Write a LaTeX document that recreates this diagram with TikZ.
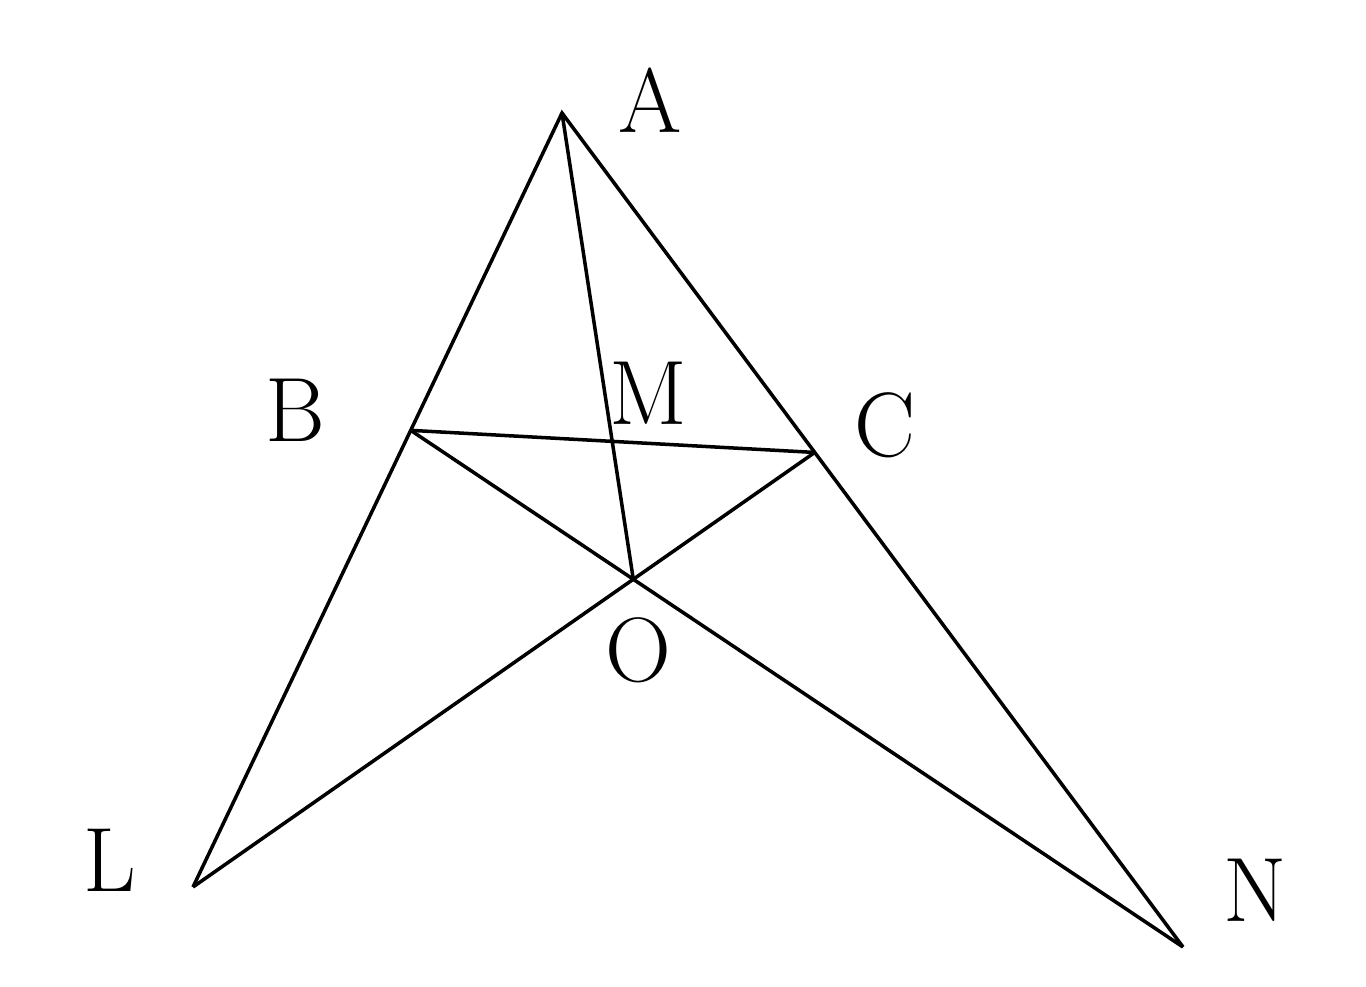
\documentclass[tikz,border=0pt]{standalone}
\usepackage{tikz}
\usetikzlibrary{calc}

\begin{document}
\begin{tikzpicture}[line width=1pt,
  lbl/.style={font=\fontsize{26}{28}\selectfont}]
\useasboundingbox (0,0) rectangle (13.66,9.86);
\coordinate (A) at (5.62,8.73);
\coordinate (L) at (1.93,0.99);
\coordinate (N) at (11.83,0.39);
\coordinate (B) at ($(A)!0.41!(L)$);
\coordinate (C) at ($(A)!0.407!(N)$);
\coordinate (O) at (intersection of B--N and C--L);
\draw (L) -- (A) -- (N);
\draw (B) -- (C);
\draw (B) -- (N);
\draw (C) -- (L);
\draw (A) -- (O);
\node[lbl] (lA) at (6.50,8.86) {A};
\node[lbl] (lB) at (2.95,5.76) {B};
\node[lbl] (lC) at (8.85,5.61) {C};
\node[lbl] (lM) at (6.48,5.93) {M};
\node[lbl] (lO) at (6.38,3.36) {O};
\node[lbl] (lL) at (1.10,1.26) {L};
\node[lbl] (lN) at (12.55,0.96) {N};
\end{tikzpicture}
\end{document}
